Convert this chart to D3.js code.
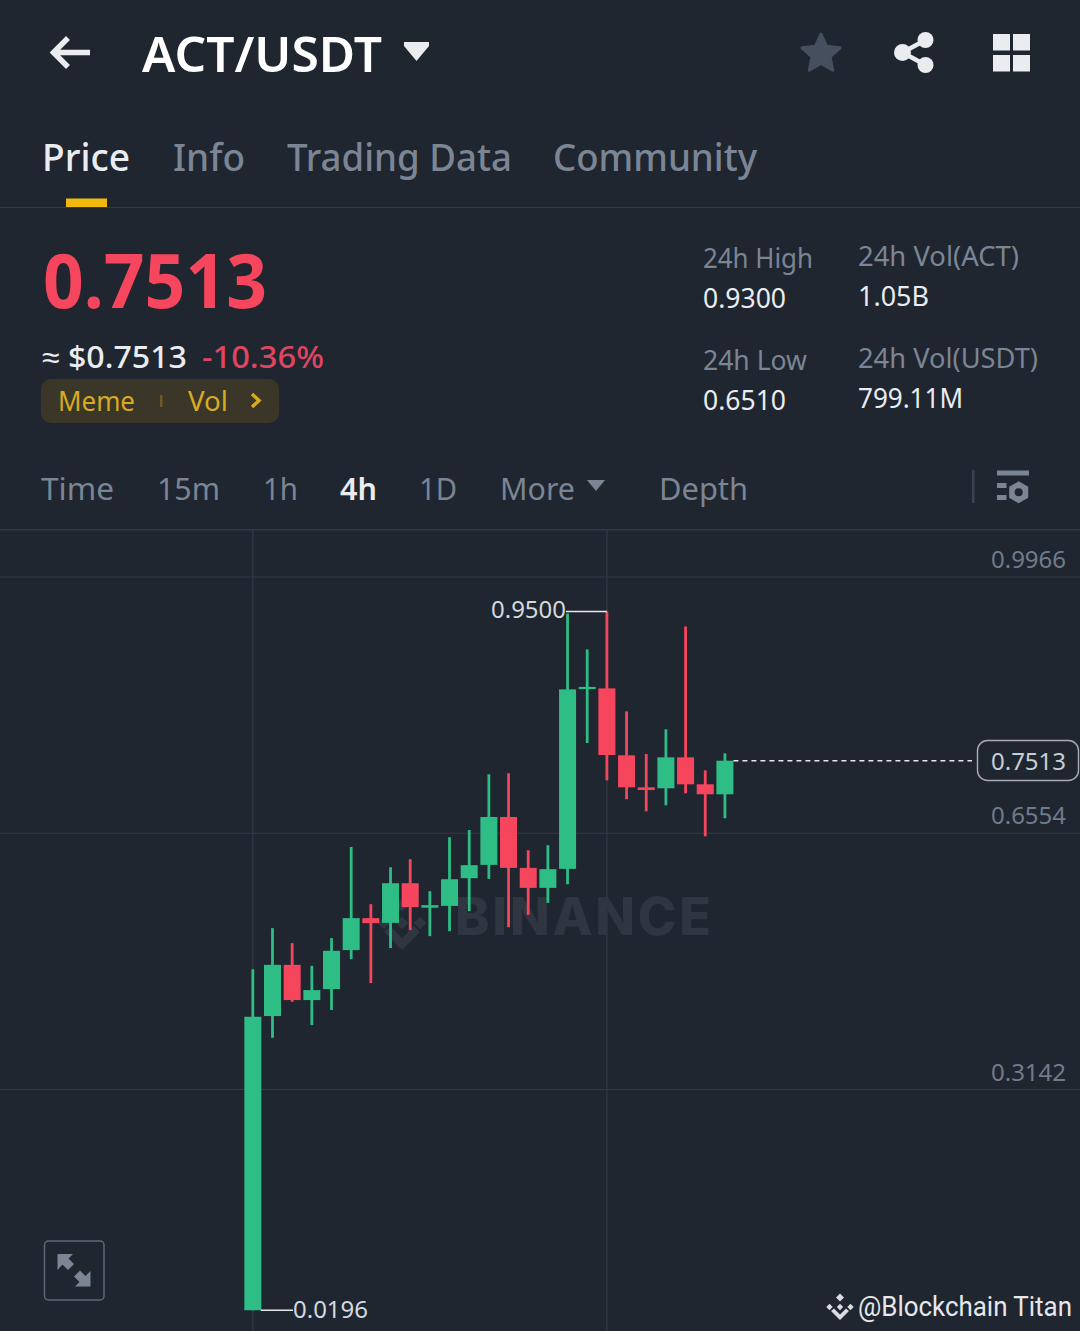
<!DOCTYPE html>
<html><head><meta charset="utf-8">
<script src="https://cdn.jsdelivr.net/npm/d3@7"></script>
<style>html,body{margin:0;padding:0;background:#1f2630;overflow:hidden}svg{display:block}text{font-family:"Noto Sans",sans-serif}</style>
</head><body><svg id="c" width="1080" height="1331"></svg>
<script>
const opens =[0.0196,0.4113,0.4795,0.4326,0.4472,0.4991,0.5417,0.5354,0.5882,0.5556,0.5580,0.5949,0.6126,0.6764,0.6086,0.5820,0.6073,0.8467,0.8476,0.7585,0.7159,0.7146,0.7558,0.7199,0.7066];
const highs =[0.4738,0.5284,0.5084,0.4782,0.5151,0.6365,0.5603,0.6095,0.6201,0.5776,0.6494,0.6591,0.7332,0.7346,0.6321,0.6388,0.9474,0.8995,0.9500,0.8170,0.7602,0.7931,0.9301,0.7385,0.7612];
const lows  =[0.0196,0.3824,0.4303,0.3993,0.4193,0.4871,0.4552,0.5018,0.5257,0.5177,0.5244,0.5510,0.5939,0.5297,0.5461,0.5620,0.5869,0.7749,0.7252,0.7000,0.6840,0.6920,0.7079,0.6507,0.6747];
const closes=[0.4104,0.4795,0.4326,0.4459,0.4982,0.5417,0.5350,0.5882,0.5563,0.5590,0.5935,0.6122,0.6764,0.6086,0.5820,0.6069,0.8463,0.8496,0.7589,0.7159,0.7123,0.7558,0.7199,0.7066,0.7513];
const priceTicks=[0.9966,0.6554,0.3142];
const gridCandles=[0,18];
const lastPrice=0.7513, peakPrice=0.9500, floorPrice=0.0196;

const BG="#1f2630",GREEN="#2ebd85",RED="#f6465d",GRID="#343b47",MUTED="#7b8594",WHITE="#eaecef";
const svg=d3.select("#c");
svg.append("rect").attr("width",1080).attr("height",1331).attr("fill",BG);
function T(s,x,y,w,size,fill,weight,anchor){
  const t=svg.append("text").text(s).attr("x",x).attr("y",y).attr("font-size",size).attr("fill",fill).attr("font-weight",weight||400);
  if(w) t.attr("textLength",w).attr("lengthAdjust","spacingAndGlyphs");
  if(anchor) t.attr("text-anchor",anchor);
  return t;
}
function R(x,y,w,h,fill,rx){return svg.append("rect").attr("x",x).attr("y",y).attr("width",w).attr("height",h).attr("fill",fill).attr("rx",rx||0);}
function P(d,fill,stroke,sw){return svg.append("path").attr("d",d).attr("fill",fill||"none").attr("stroke",stroke||"none").attr("stroke-width",sw||0);}

// header
P("M90,52.5H55M68,38L53.5,52.5L68,67","none","#eaecef",5.5).attr("stroke-linejoin","miter");
T("ACT/USDT",142,72,240,49,"#ffffff",600);
P("M404,42H429V46L416.5,61L404,46Z","#eaecef");
const star=d3.range(10).map(i=>{const r=i%2?9.5:20,a=-Math.PI/2+i*Math.PI/5;return [821+r*Math.cos(a),54+r*Math.sin(a)];});
svg.append("path").attr("d","M"+star.join("L")+"Z").attr("fill","#454f5e").attr("stroke","#454f5e").attr("stroke-width",3).attr("stroke-linejoin","round");
P("M925.5,40L902.5,52.5L925.5,65","none","#eaecef",4.5);
[[925.5,40,8],[925.5,65,8],[902.5,52.5,8.5]].forEach(c=>svg.append("circle").attr("cx",c[0]).attr("cy",c[1]).attr("r",c[2]).attr("fill","#eaecef"));
[[993,34],[1013,34],[993,55],[1013,55]].forEach(p=>R(p[0],p[1],17,16.5,"#eaecef"));

// tabs
T("Price",42,171,88,38,WHITE,500);
T("Info",173,171,72,38,MUTED,500);
T("Trading Data",287,171,225,38,MUTED,500);
T("Community",553,171,204,38,MUTED,500);
R(66,198.5,41,8.5,"#f0b90b");
R(0,207,1080,1,"#343b47");

// price block
T("0.7513",43,308,224,76,"#f6465d",700);
T("≈ $0.7513",42,368,145,31,WHITE,500);
T("-10.36%",202,368,122,31,"#dd4560",500);
R(41,379,238,44,"#3a3729",10);
T("Meme",58,411,77,28,"#d9a920");
R(160,395,2.5,12,"#6b5a25");
T("Vol",188,411,40,28,"#d9a920");
P("M252,394L259,400.5L252,407","none","#d9a920",3.5);

T("24h High",703,268,110,28,MUTED);
T("0.9300",703,308,83,27,WHITE);
T("24h Vol(ACT)",858,266,161,28,MUTED);
T("1.05B",858,306,71,27,WHITE);
T("24h Low",703,370,104,28,MUTED);
T("0.6510",703,410,83,27,WHITE);
T("24h Vol(USDT)",858,368,180,28,MUTED);
T("799.11M",858,408,105,27,WHITE);

// period bar
T("Time",41,500,73,31,MUTED);
T("15m",157,500,63,31,MUTED);
T("1h",263,500,35,31,MUTED);
T("4h",340,500,37,31,WHITE,600);
T("1D",419,500,38,31,MUTED);
T("More",500,500,75,31,MUTED);
P("M587,480H605L596,491Z",MUTED);
T("Depth",659,500,89,31,MUTED);
R(972,470,2.5,33,"#3a4250");
R(997,470.5,32,5,MUTED);R(997,483,9.5,5,MUTED);R(997,495,9.5,5,MUTED);
const hex=d3.range(6).map(i=>{const a=-Math.PI/2+i*Math.PI/3;return [1018.7+11*Math.cos(a),492.3+11*Math.sin(a)];});
svg.append("path").attr("d","M"+hex.join("L")+"Z").attr("fill",MUTED);
svg.append("circle").attr("cx",1018.7).attr("cy",492.3).attr("r",4).attr("fill",BG);
R(0,529,1080,1.5,"#343b47");

// scales
const y=d3.scaleLinear().domain([0.9966,0.3142]).range([576.5,1089]);
const x=d3.scaleBand().domain(d3.range(opens.length)).range([243,243+19.67*opens.length]).paddingInner(0.135).paddingOuter(0.0675);
const cx=i=>x(i)+x.bandwidth()/2;

// vertical grid
svg.append("g").selectAll("line").data(gridCandles).join("line")
  .attr("x1",cx).attr("x2",cx).attr("y1",530).attr("y2",1331).attr("stroke",GRID).attr("stroke-width",1.2);

// price axis
const ax=svg.append("g").attr("transform","translate(1080,0)")
  .call(d3.axisLeft(y).tickValues(priceTicks).tickSize(1080).tickPadding(0).tickFormat(d3.format(".4f")));
ax.select(".domain").remove();
ax.selectAll("line").attr("stroke",GRID).attr("stroke-width",1.2);
ax.selectAll("text").attr("x",-14).attr("dy",0).attr("y",-9).attr("text-anchor","end").attr("font-size",24).attr("fill","#717b8a")
  .attr("font-family",'"Noto Sans",sans-serif').attr("textLength",75).attr("lengthAdjust","spacingAndGlyphs");

// BINANCE watermark
const WM="#2f3541";
const g=svg.append("g").attr("fill",WM);
[[402,905,6.5],[384,923,6.5],[420,923,6.5],[402,923,6.5]].forEach(d=>g.append("path").attr("d",`M${d[0]},${d[1]-d[2]}l${d[2]},${d[2]}l${-d[2]},${d[2]}l${-d[2]},${-d[2]}Z`));
g.append("path").attr("d","M402,950L384,932L390,926L402,938L414,926L420,932Z");
svg.append("text").text("BINANCE").attr("x",455).attr("y",935).attr("font-size",52).attr("font-weight",800).attr("fill",WM)
  .style("font-family","Inter,sans-serif").attr("textLength",256).attr("lengthAdjust","spacing");

// candles
const idx=d3.range(opens.length);
const col=i=>closes[i]>=opens[i]?GREEN:RED;
const cg=svg.append("g");
cg.selectAll("line").data(idx).join("line")
  .attr("x1",cx).attr("x2",cx).attr("y1",i=>y(highs[i])).attr("y2",i=>y(lows[i]))
  .attr("stroke",col).attr("stroke-width",2.8);
cg.selectAll("rect").data(idx).join("rect")
  .attr("x",i=>x(i)).attr("width",x.bandwidth())
  .attr("y",i=>y(Math.max(opens[i],closes[i])))
  .attr("height",i=>Math.max(2,Math.abs(y(opens[i])-y(closes[i]))))
  .attr("fill",col);

// high / low callouts
const hi=d3.maxIndex(highs);
svg.append("line").attr("x1",566).attr("x2",cx(hi)).attr("y1",y(peakPrice)).attr("y2",y(peakPrice)).attr("stroke","#e6e8ec").attr("stroke-width",1.4);
T(d3.format(".4f")(peakPrice),491,y(peakPrice)+7,75,24,"#d5d9df");
svg.append("line").attr("x1",cx(0)+8).attr("x2",293).attr("y1",y(floorPrice)).attr("y2",y(floorPrice)).attr("stroke","#e6e8ec").attr("stroke-width",1.4);
T(d3.format(".4f")(floorPrice),293,y(floorPrice)+8,75,24,"#d5d9df");

// last price
svg.append("line").attr("x1",x(24)+x.bandwidth()).attr("x2",972).attr("y1",y(lastPrice)).attr("y2",y(lastPrice))
  .attr("stroke","#e6e8ec").attr("stroke-width",1.3).attr("stroke-dasharray","5 4");
svg.append("rect").attr("x",977.5).attr("y",740.5).attr("width",101).attr("height",40).attr("rx",10).attr("fill",BG).attr("stroke","#a9aeb6").attr("stroke-width",1.4);
T(d3.format(".4f")(lastPrice),991,770,75,24,"#c9ced6");

// expand button
svg.append("rect").attr("x",44.5).attr("y",1241).attr("width",59.5).attr("height",59).attr("rx",4).attr("fill","none").attr("stroke","#5f6875").attr("stroke-width",1.5);
P("M57.5,1254H73L68.5,1258.5L74,1264L68,1270L62.5,1264.5L57.5,1270Z",MUTED);
P("M90.5,1286.5H75L79.5,1282L74,1276.5L80,1270.5L85.5,1276L90.5,1271Z",MUTED);

// attribution
const lg=svg.append("g").attr("fill","#d8dbe0");
[[840,1297.5,4],[829.5,1307,3.2],[850.5,1307,3.2],[840,1307,3.2]].forEach(d=>lg.append("path").attr("d",`M${d[0]},${d[1]-d[2]}l${d[2]},${d[2]}l${-d[2]},${d[2]}l${-d[2]},${-d[2]}Z`));
lg.append("path").attr("d","M840,1320L831,1311L834,1308.5L840,1314.5L846,1308.5L849,1311Z");
svg.append("text").text("@Blockchain Titan").attr("x",858).attr("y",1316).attr("font-size",27).attr("fill","#e6e8ec")
  .style("font-family","Roboto,sans-serif").attr("textLength",214).attr("lengthAdjust","spacingAndGlyphs");
</script></body></html>
